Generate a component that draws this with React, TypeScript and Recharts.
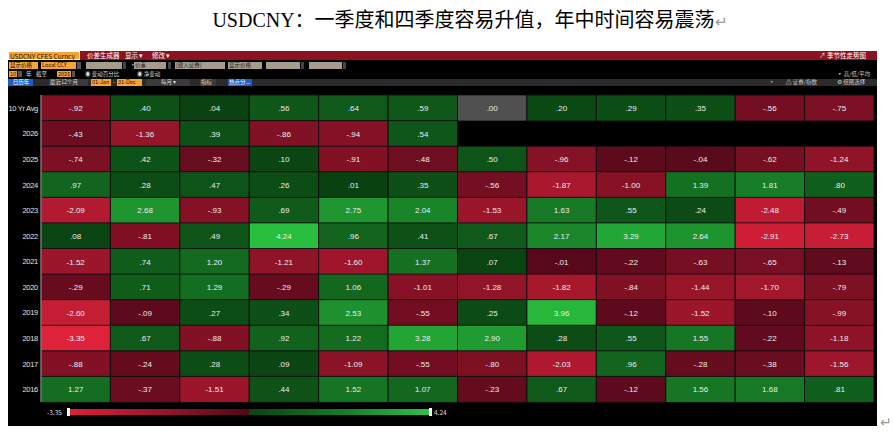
import React from "react";
import { BarChart, Bar, XAxis, YAxis, Cell, LabelList } from "recharts";

const monthLabels = ["1月", "2月", "3月", "4月", "5月", "6月", "7月", "8月", "9月", "10月", "11月", "12月"];
const rowLabels = ["10 Yr Avg", "2026", "2025", "2024", "2023", "2022", "2021", "2020", "2019", "2018", "2017", "2016"];

const avg10 = [-0.92, 0.4, 0.04, 0.56, 0.64, 0.59, 0.0, 0.2, 0.29, 0.35, -0.56, -0.75];
const y2026 = [-0.43, -1.36, 0.39, -0.86, -0.94, 0.54, null, null, null, null, null, null];
const y2025 = [-0.74, 0.42, -0.32, 0.1, -0.91, -0.48, 0.5, -0.96, -0.12, -0.04, -0.62, -1.24];
const y2024 = [0.97, 0.28, 0.47, 0.26, 0.01, 0.35, -0.56, -1.87, -1.0, 1.39, 1.81, 0.8];
const y2023 = [-2.09, 2.68, -0.93, 0.69, 2.75, 2.04, -1.53, 1.63, 0.55, 0.24, -2.48, -0.49];
const y2022 = [0.08, -0.81, 0.49, 4.24, 0.96, 0.41, 0.67, 2.17, 3.29, 2.64, -2.91, -2.73];
const y2021 = [-1.52, 0.74, 1.2, -1.21, -1.6, 1.37, 0.07, -0.01, -0.22, -0.63, -0.65, -0.13];
const y2020 = [-0.29, 0.71, 1.29, -0.29, 1.06, -1.01, -1.28, -1.82, -0.84, -1.44, -1.7, -0.79];
const y2019 = [-2.6, -0.09, 0.27, 0.34, 2.53, -0.55, 0.25, 3.96, -0.12, -1.52, -0.1, -0.99];
const y2018 = [-3.35, 0.67, -0.88, 0.92, 1.22, 3.28, 2.9, 0.28, 0.55, 1.55, -0.22, -1.18];
const y2017 = [-0.88, -0.24, 0.28, 0.09, -1.09, -0.55, -0.8, -2.03, 0.96, -0.28, -0.38, -1.56];
const y2016 = [1.27, -0.37, -1.51, 0.44, 1.52, 1.07, -0.23, 0.67, -0.12, 1.56, 1.68, 0.81];

const rowValues: (number | null)[][] = [avg10, y2026, y2025, y2024, y2023, y2022, y2021, y2020, y2019, y2018, y2017, y2016];

const scaleMin = -3.35;
const scaleMax = 4.24;
const boundaryTicks = [0, 1, 2, 3, 4, 5, 6, 7, 8, 9, 10, 11, 12];
const monthTicks = monthLabels.map((_, i) => i + 0.5);

const chartData = rowLabels.map((label, r) => {
  const row: any = { label };
  rowValues[r].forEach((v, m) => {
    row[`m${m}`] = v == null ? null : 1;
    row[`v${m}`] = v;
  });
  return row;
});

const lerp = (a: number[], b: number[], t: number) =>
  `rgb(${a.map((x, i) => Math.round(x + (b[i] - x) * t)).join(",")})`;

function cellColor(v: number | null) {
  if (v == null) return "transparent";
  if (v === 0) return "#505050";
  if (v < 0) {
    const t = Math.pow(Math.min(1, v / scaleMin), 0.85);
    return lerp([86, 9, 27], [222, 34, 58], t);
  }
  const t = Math.pow(Math.min(1, v / scaleMax), 0.85);
  return lerp([9, 64, 17], [40, 190, 62], t);
}

function fmt(v: number) {
  return v.toFixed(2).replace(/^(-?)0\./, "$1.");
}

const cellFont = "'Liberation Sans', Arial, sans-serif";

const renderValue = (props: any) => {
  const { x, y, width, height, value } = props;
  if (value == null || !width) return null;
  return (
    <text
      x={Number(x) + Number(width) / 2}
      y={Number(y) + Number(height) / 2}
      dy={3}
      textAnchor="middle"
      fill="#ececec"
      fontSize={8}
      fontFamily={cellFont}
    >
      {fmt(value)}
    </text>
  );
};

const RowTick = (props: any) => {
  const { x, y, payload } = props;
  return (
    <text
      x={x}
      y={y}
      dy={3}
      textAnchor="end"
      fill="#e0e0e0"
      fontSize={7.5}
      letterSpacing={-0.3}
      fontFamily="'Liberation Sans Narrow', 'Liberation Sans', Arial, sans-serif"
    >
      {payload.value}
    </text>
  );
};

const uiFont = "'Noto Sans CJK SC', 'Liberation Sans', sans-serif";

function Box(p: { x: number; y: number; w: number; h: number; bg?: string; color?: string; text?: string; size?: number; align?: any; border?: string }) {
  return (
    <div
      style={{
        position: "absolute",
        left: p.x,
        top: p.y,
        width: p.w,
        height: p.h,
        background: p.bg || "transparent",
        color: p.color || "#ddd",
        fontSize: p.size || 6,
        lineHeight: `${p.h}px`,
        fontFamily: uiFont,
        whiteSpace: "nowrap",
        overflow: "visible",
        textAlign: p.align || "left",
        boxSizing: "border-box",
        border: p.border || "none",
        paddingLeft: 1,
      }}
    >
      {p.text}
    </div>
  );
}

export default function App() {
  return (
    <div style={{ position: "absolute", left: 0, top: 0, width: 894, height: 438, background: "#fff", overflow: "hidden" }}>
      <div
        style={{
          position: "absolute",
          left: 46,
          top: 6,
          width: 848,
          height: 28,
          lineHeight: "28px",
          textAlign: "center",
          fontSize: 20,
          fontFamily: "'Liberation Serif', 'Noto Sans CJK SC', serif",
          color: "#000",
        }}
      >
        USDCNY：一季度和四季度容易升值，年中时间容易震荡<span style={{ color: "#999", fontSize: 15 }}>↵</span>
      </div>

      {/* terminal panel */}
      <div style={{ position: "absolute", left: 8, top: 51, width: 869, height: 375, background: "#000" }} />
      <div style={{ position: "absolute", left: 8, top: 51, width: 869, height: 9, background: "#8c1221" }} />
      <Box x={8} y={51} w={72} h={9} bg="#f3a53a" color="#2a0a00" text="USDCNY CFES Curncy" size={6.5} border="1px solid #fff" />
      <Box x={86} y={51} w={40} h={9} color="#fff" text="价差生成器" size={6.5} />
      <Box x={124} y={51} w={26} h={9} color="#fff" text="显示 ▾" size={6.5} />
      <Box x={151} y={51} w={26} h={9} color="#fff" text="修改 ▾" size={6.5} />
      <Box x={818} y={51} w={60} h={9} color="#fff" text="↗ 季节性走势图" size={6.5} />

      {/* row 1 */}
      <Box x={9} y={62} w={29} h={7} bg="#f3a53a" color="#2a0a00" text="显示价格" size={5.5} />
      <Box x={41} y={62} w={35} h={7} bg="#f3a53a" color="#2a0a00" text="Local CCY" size={5.5} />
      <Box x={77} y={62} w={4} h={7} bg="#555" />
      <Box x={86} y={62} w={36} h={7} bg="#a59c8e" />
      <Box x={123} y={62} w={3} h={7} bg="#444" />
      <Box x={129} y={62} w={4} h={7} color="#aaa" text="▪" size={5.5} />
      <Box x={134} y={62} w={32} h={7} bg="#a59c8e" color="#222" text="价差" size={5.5} />
      <Box x={168} y={62} w={3} h={7} bg="#444" />
      <Box x={175} y={62} w={50} h={7} bg="#a59c8e" color="#222" text="[键入证券]" size={5.5} />
      <Box x={228} y={62} w={34} h={7} bg="#a59c8e" color="#222" text="显示价格" size={5.5} />
      <Box x={266} y={62} w={34} h={7} bg="#a59c8e" />
      <Box x={301} y={62} w={3} h={7} bg="#444" />
      <Box x={309} y={62} w={33} h={7} bg="#a59c8e" />
      <Box x={343} y={62} w={3} h={7} bg="#444" />

      {/* row 2 */}
      <Box x={9} y={71} w={8} h={6} bg="#f3a53a" color="#2a0a00" text="10" size={5.5} />
      <Box x={18} y={71} w={4} h={6} bg="#555" />
      <Box x={25} y={71} w={10} h={6} color="#ddd" text="年" size={5.5} />
      <Box x={35} y={71} w={20} h={6} color="#ddd" text="截至" size={5.5} />
      <Box x={57} y={71} w={14} h={6} bg="#f3a53a" color="#2a0a00" text="2026" size={5.5} />
      <Box x={72} y={71} w={3} h={6} bg="#555" />
      <Box x={84} y={71} w={52} h={6} color="#ddd" text="◉ 变动百分比" size={5.5} />
      <Box x={136} y={71} w={30} h={6} color="#ddd" text="◉ 净变动" size={5.5} />
      <Box x={836} y={71} w={40} h={6} color="#ccc" text="▪ 高/低/平均" size={5.5} />

      {/* row 3 */}
      <div style={{ position: "absolute", left: 8, top: 79, width: 869, height: 7, background: "#2b2b2b" }} />
      <Box x={8} y={79} w={25} h={7} bg="#1f5fc4" color="#fff" text="日历年" size={5.5} align="center" />
      <Box x={49} y={79} w={39} h={7} bg="#3a3a3a" color="#ddd" text="最近12个月" size={5.5} />
      <Box x={91} y={79} w={20} h={7} bg="#f3a53a" color="#2a0a00" text="01-Jan" size={5.5} />
      <Box x={112} y={79} w={4} h={7} color="#ddd" text="-" size={5.5} />
      <Box x={117} y={79} w={25} h={7} bg="#f3a53a" color="#2a0a00" text="31-Dec" size={5.5} />
      <Box x={146} y={79} w={44} h={7} bg="#3a3a3a" color="#ddd" text="每月 ▾" size={5.5} align="center" />
      <Box x={200} y={79} w={16} h={7} bg="#3a3a3a" color="#ddd" text="指标" size={5.5} />
      <Box x={228} y={79} w={24} h={7} color="#fff" bg="#1f5fc4" text="热点分..." size={5.5} />
      <Box x={768} y={79} w={6} h={7} color="#aaa" text="▪" size={5.5} />
      <Box x={785} y={79} w={40} h={7} color="#ccc" text="⚠ 证券/指数" size={5.5} />
      <Box x={836} y={79} w={40} h={7} color="#ccc" text="⚙ 组图选择" size={5.5} />

      <div style={{ position: "absolute", left: 0, top: 0 }}>
        <BarChart
          width={894}
          height={438}
          data={chartData}
          layout="vertical"
          margin={{ top: 83, right: 20, bottom: 36, left: 1 }}
          barCategoryGap={0}
          barGap={0}
        >
          <XAxis
            xAxisId={0}
            type="number"
            domain={[0, 12]}
            orientation="top"
            ticks={boundaryTicks}
            tick={false}
            tickSize={3}
            tickLine={{ stroke: "#888" }}
            axisLine={{ stroke: "#666" }}
            height={0}
            allowDataOverflow
          />
          <XAxis
            xAxisId="lbl"
            type="number"
            domain={[0, 12]}
            orientation="top"
            ticks={monthTicks}
            tickFormatter={(v: number) => monthLabels[Math.floor(v)]}
            tickLine={false}
            axisLine={false}
            tickSize={0}
            tickMargin={2}
            height={12}
            interval={0}
            tick={{ fill: "#cfcfcf", fontSize: 8, fontFamily: uiFont }}
          />
          <YAxis
            yAxisId="grid"
            type="number"
            domain={[0, 12]}
            ticks={boundaryTicks}
            tick={false}
            tickSize={3}
            tickLine={{ stroke: "#eee" }}
            axisLine={false}
            width={0}
            allowDataOverflow
          />
          <YAxis
            yAxisId={0}
            type="category"
            dataKey="label"
            width={40}
            tickSize={1}
            tickMargin={2}
            tickLine={false}
            axisLine={{ stroke: "#aaa" }}
            interval={0}
            tick={<RowTick />}
          />
          {monthLabels.map((_, m) => (
            <Bar
              key={m}
              dataKey={`m${m}`}
              stackId="s"
              isAnimationActive={false}
              stroke="#0a0a0a"
              strokeWidth={0.8}
            >
              {chartData.map((d, r) => (
                <Cell key={r} fill={cellColor(d[`v${m}`])} />
              ))}
              <LabelList dataKey={`v${m}`} content={renderValue} />
            </Bar>
          ))}
        </BarChart>
      </div>

      {/* color scale legend */}
      <Box x={46} y={408} w={20} h={8} color="#ddd" text="-3.35" size={6.5} />
      <div
        style={{
          position: "absolute",
          left: 68,
          top: 409,
          width: 362,
          height: 6,
          background: "linear-gradient(to right, #de223a 0%, #8c1428 30%, #4e0918 50%, #0a4412 50%, #137a26 75%, #2cc447 100%)",
        }}
      />
      <div style={{ position: "absolute", left: 67, top: 408, width: 3, height: 8, background: "#fff" }} />
      <div style={{ position: "absolute", left: 429, top: 408, width: 3, height: 8, background: "#fff" }} />
      <Box x={433} y={408} w={20} h={8} color="#ddd" text="4.24" size={6.5} />
      <div style={{ position: "absolute", left: 880, top: 414, fontSize: 14, color: "#999", fontFamily: "'DejaVu Sans', sans-serif" }}>↵</div>
    </div>
  );
}
